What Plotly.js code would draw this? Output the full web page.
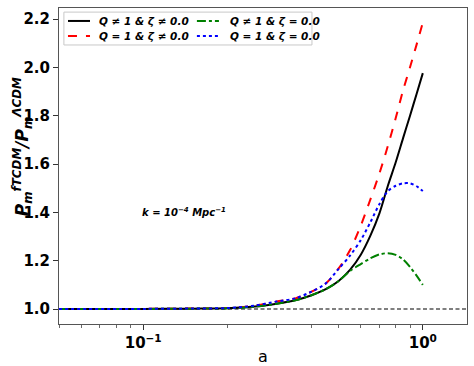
<!DOCTYPE html>
<html>
<head>
<meta charset="utf-8">
<script src="https://cdn.plot.ly/plotly-3.0.1.min.js"></script>
<style>html,body{margin:0;padding:0;background:#fff;}#chart{width:474px;height:366px;}</style>
</head>
<body>
<div id="chart"></div>
<script>
const aVals = [0.05, 0.1, 0.15, 0.2, 0.25, 0.3, 0.35, 0.4, 0.45, 0.5, 0.55, 0.6, 0.65, 0.7, 0.75, 0.8, 0.85, 0.9, 0.95, 1.0];
const blackQne1Zne0 = [1.0, 1.0004, 1.0015, 1.003, 1.01, 1.022, 1.036, 1.057, 1.082, 1.116, 1.163, 1.225, 1.305, 1.397, 1.51, 1.607, 1.707, 1.80, 1.89, 1.976];
const redQ1Zne0 = [1.0, 1.0005, 1.002, 1.004, 1.014, 1.031, 1.044, 1.072, 1.106, 1.168, 1.245, 1.345, 1.455, 1.562, 1.675, 1.79, 1.905, 2.0, 2.094, 2.185];
const greenQne1Z0 = [1.0, 1.0004, 1.0015, 1.003, 1.01, 1.022, 1.036, 1.057, 1.082, 1.116, 1.158, 1.186, 1.21, 1.226, 1.231, 1.224, 1.205, 1.174, 1.138, 1.10];
const blueQ1Z0 = [1.0, 1.0005, 1.002, 1.004, 1.014, 1.031, 1.044, 1.072, 1.106, 1.166, 1.222, 1.285, 1.36, 1.435, 1.488, 1.51, 1.52, 1.52, 1.508, 1.488];
const refLevel = 1.0;
const names = ["Q ≠ 1 & ζ ≠ 0.0", "Q = 1 & ζ ≠ 0.0", "Q ≠ 1 & ζ = 0.0", "Q = 1 & ζ = 0.0"];
const yTicks = [1.0, 1.2, 1.4, 1.6, 1.8, 2.0, 2.2];
const xTickVals = [0.1, 1];
const xTickText = ["10<sup>−1</sup>", "10<sup>0</sup>"];
const xMinor = [0.05, 0.06, 0.07, 0.08, 0.09, 0.2, 0.3, 0.4, 0.5, 0.6, 0.7, 0.8, 0.9];

const styles = [
  {color: '#000000', dash: 'solid'},
  {color: '#ff0000', dash: 'dash'},
  {color: '#008000', dash: 'dashdot'},
  {color: '#0000ff', dash: 'dot'}
];
const series = [blackQne1Zne0, redQ1Zne0, greenQne1Z0, blueQ1Z0];
const data = series.map((y, i) => ({
  x: aVals, y: y, type: 'scatter', mode: 'lines', name: names[i], showlegend: false,
  line: {color: styles[i].color, width: 2, dash: styles[i].dash, shape: 'spline', smoothing: 0.8}
}));

// legend layout (paper fractions of plot area): [col, row]
const legCols = [{s0: 0.022, s1: 0.076, t: 0.093}, {s0: 0.338, s1: 0.392, t: 0.414}];
const legRows = [0.959, 0.911];
const legPos = [[0, 0], [0, 1], [1, 0], [1, 1]];

const shapes = [{
  type: 'rect', xref: 'paper', yref: 'paper', x0: 0.012, x1: 0.62, y0: 0.883, y1: 0.987,
  line: {color: '#c8c8c8', width: 1}, fillcolor: 'rgba(255,255,255,0.8)', layer: 'above'
}, {
  type: 'line', xref: 'paper', x0: 0, x1: 1, yref: 'y', y0: refLevel, y1: refLevel,
  line: {color: '#000', width: 1.2, dash: '4px,2.5px'}, layer: 'below'
}];
const annotations = [{
  x: Math.log10(0.140), y: 1.40, xref: 'x', yref: 'y', showarrow: false,
  text: '<b><i>k = 10<sup>−4</sup> Mpc<sup>−1</sup></i></b>',
  font: {family: 'DejaVu Sans', size: 10, color: '#000'}
}, {
  x: -0.09, y: 0.56, xref: 'paper', yref: 'paper', showarrow: false, textangle: -90,
  xanchor: 'center', yanchor: 'middle',
  text: '<b><i>P<sub>m</sub><sup>fTCDM</sup>/P<sub>m</sub><sup>ΛCDM</sup></i></b>',
  font: {family: 'DejaVu Sans', size: 17, color: '#000'}
}];
legPos.forEach((p, i) => {
  const c = legCols[p[0]], r = legRows[p[1]];
  shapes.push({type: 'line', xref: 'paper', yref: 'paper', x0: c.s0, x1: c.s1, y0: r, y1: r,
    line: {color: styles[i].color, width: 2, dash: styles[i].dash}, layer: 'above'});
  annotations.push({x: c.t, y: r, xref: 'paper', yref: 'paper', xanchor: 'left', yanchor: 'middle',
    showarrow: false, text: '<b><i>' + names[i] + '</i></b>',
    font: {family: 'DejaVu Sans', size: 10.5, color: '#000'}});
});

const layout = {
  width: 474, height: 366,
  margin: {l: 59, r: 7, t: 8, b: 42},
  paper_bgcolor: '#fff', plot_bgcolor: '#fff',
  font: {family: 'DejaVu Sans', color: '#000'},
  showlegend: false,
  xaxis: {
    type: 'log', range: [Math.log10(0.05), 0.158],
    tickmode: 'array', tickvals: xTickVals, ticktext: xTickText,
    ticks: 'outside', ticklen: 5, tickwidth: 1, tickcolor: '#333',
    tickfont: {family: 'DejaVu Sans', size: 15, color: '#000', weight: 'bold'},
    minor: {tickmode: 'array', tickvals: xMinor, ticks: 'outside', ticklen: 3, tickwidth: 0.8, tickcolor: '#444', showgrid: false},
    showgrid: false, zeroline: false,
    showline: true, linecolor: '#555', linewidth: 1, mirror: true,
    title: {text: 'a', font: {family: 'DejaVu Sans', size: 16, color: '#000'}, standoff: 0}
  },
  yaxis: {
    range: [0.938, 2.2455],
    tickmode: 'array', tickvals: yTicks, ticktext: yTicks.map(v => v.toFixed(1)),
    ticks: 'outside', ticklen: 5, tickwidth: 1, tickcolor: '#333',
    tickfont: {family: 'DejaVu Sans', size: 15, color: '#000', weight: 'bold'},
    showgrid: false, zeroline: false,
    showline: true, linecolor: '#555', linewidth: 1, mirror: true
  },
  shapes: shapes,
  annotations: annotations
};
Plotly.newPlot('chart', data, layout, {displayModeBar: false, staticPlot: true});
</script>
</body>
</html>
